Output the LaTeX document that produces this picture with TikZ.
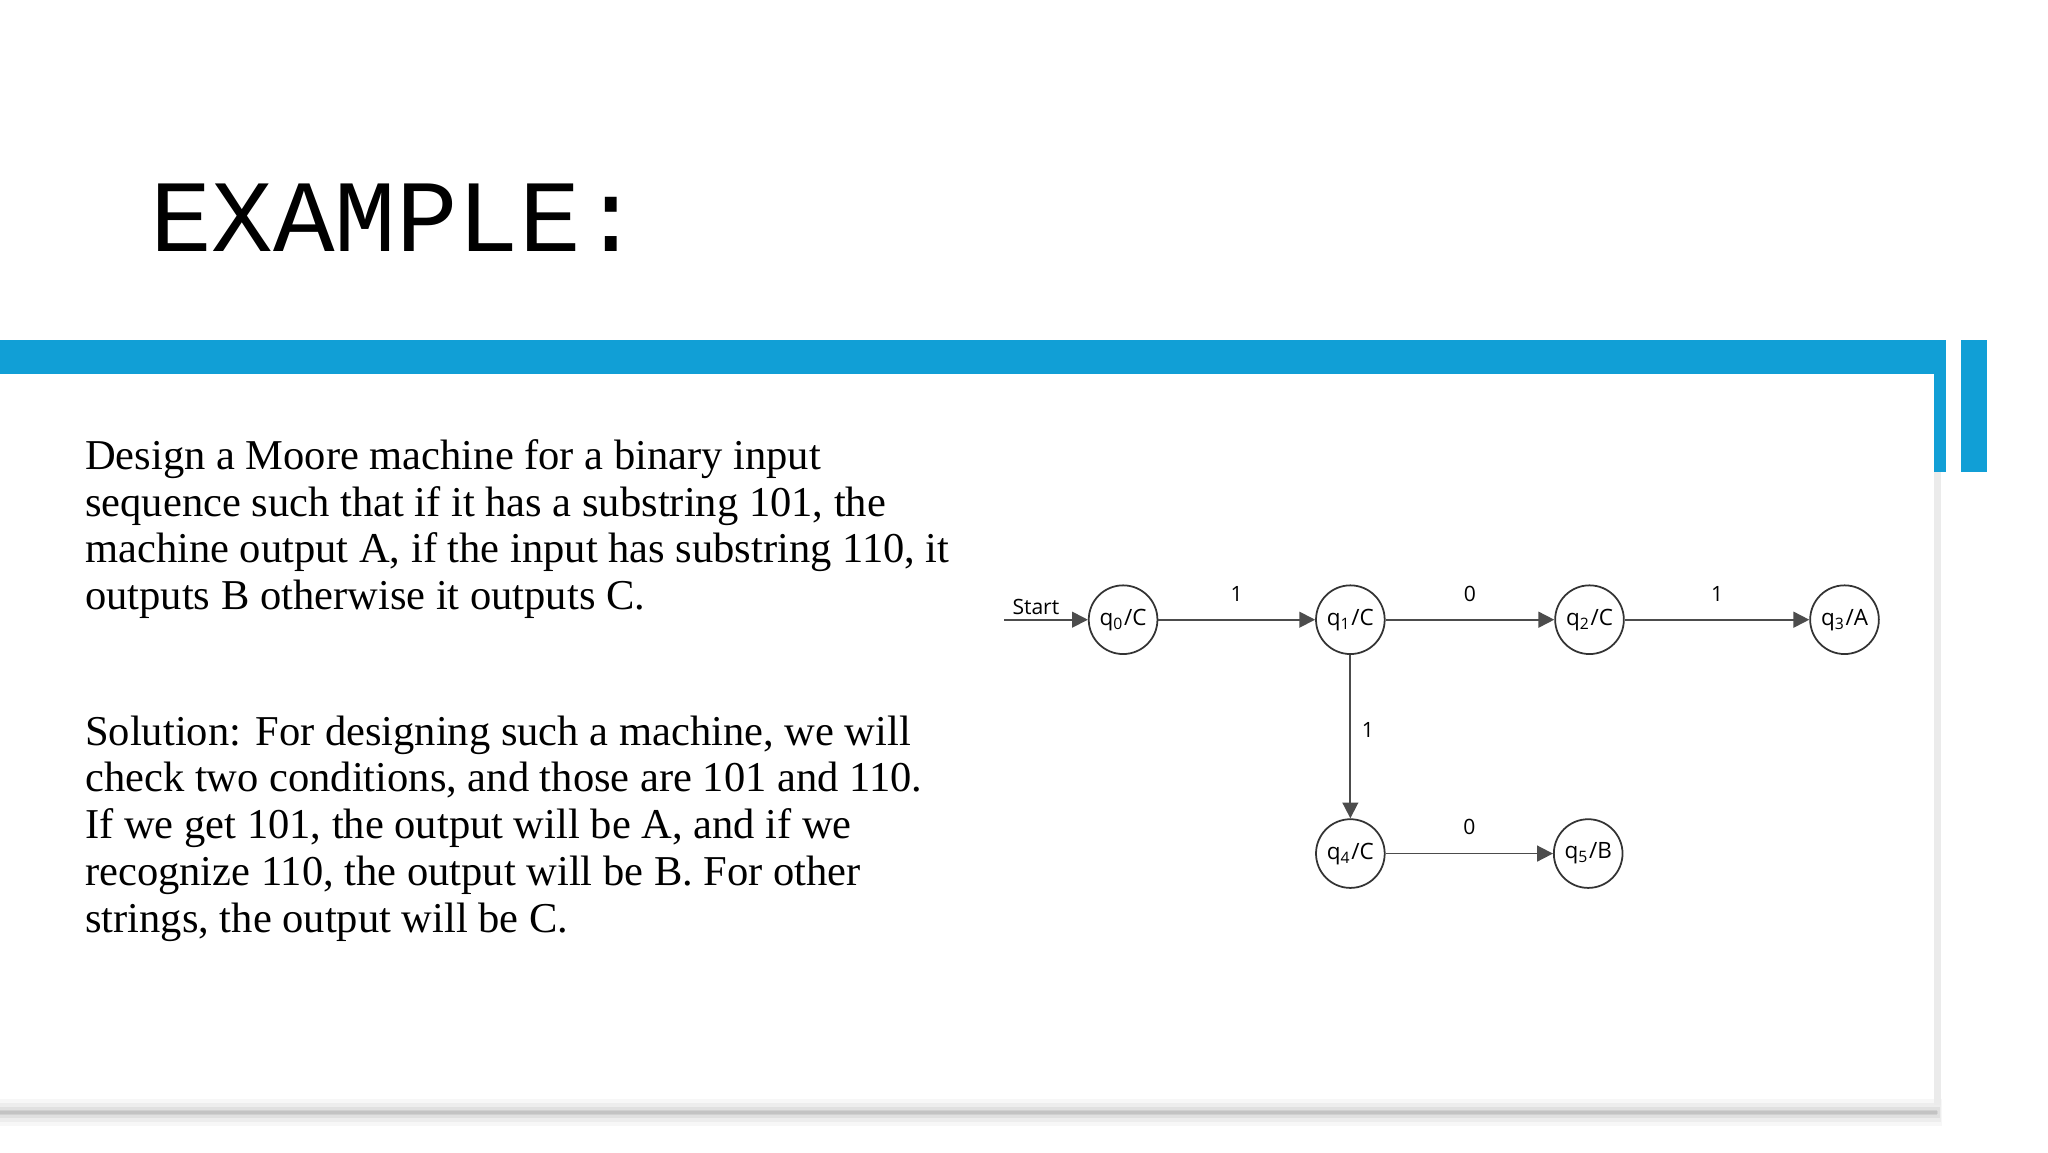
\documentclass[tikz,border=0pt]{standalone}
\usepackage{fontspec}
\setmainfont{Liberation Serif}
\setsansfont{Open Sans}
\newfontfamily\monof{Liberation Mono}
\usetikzlibrary{arrows.meta}
\definecolor{barblue}{HTML}{119FD6}
\begin{document}
\begin{tikzpicture}[x=0.013213cm,y=-0.013213cm,
  st/.style={circle,draw=black!80,line width=0.5pt,minimum size=0.687cm,inner sep=0pt,font=\sffamily\fontsize{6.4}{7}\selectfont},
  tr/.style={draw=black!70,line width=0.5pt,-{Triangle[length=4.5pt,width=4.5pt]}},
  lb/.style={font=\sffamily\fontsize{6}{7}\selectfont,inner sep=0pt},
  body/.style={anchor=north west,align=left,inner sep=0pt,font=\fontsize{12.1}{13.3}\selectfont}]
\useasboundingbox (0,0) rectangle (1550,872);
\fill[white] (0,0) rectangle (1550,872);
% shadow
\foreach \i/\o in {0/0.03,1/0.04,2/0.05,3/0.06,4/0.07}{
  \fill[black,opacity=\o] (0,832+3*\i) rectangle (1470-\i,852-3*\i);}
\fill[black!8] (1464,300) rectangle (1469,836);
\fill[white] (0,283) rectangle (1464,832);
% bars
\fill[barblue] (0,257) rectangle (1473,283);
\fill[barblue] (1464,257) rectangle (1473,357);
\fill[barblue] (1484,257) rectangle (1504,357);
% title
\node[anchor=base west,inner sep=0pt,font=\monof\fontsize{29.2}{32}\selectfont] (title) at (113,190) {EXAMPLE:};
% body
\node[body] (p1) at (64,332) {Design a Moore machine for a binary input\\sequence such that if it has a substring 101, the\\machine output A, if the input has substring 110, it\\outputs B otherwise it outputs C.};
\node[body] (p2) at (64,541) {Solution: For designing such a machine, we will\\check two conditions, and those are 101 and 110.\\If we get 101, the output will be A, and if we\\recognize 110, the output will be B. For other\\strings, the output will be C.};
% diagram
\node[st] (q0) at (850,469) {q\textsubscript{0}/C};
\node[st] (q1) at (1022,469) {q\textsubscript{1}/C};
\node[st] (q2) at (1203,469) {q\textsubscript{2}/C};
\node[st] (q3) at (1396,469) {q\textsubscript{3}/A};
\node[st] (q4) at (1022,646) {q\textsubscript{4}/C};
\node[st] (q5) at (1202,646) {q\textsubscript{5}/B};
\coordinate (s) at (760,469);
\node[lb] (start) at (784,459) {Start};
\draw[tr] (s) -- (q0);
\draw[tr] (q0) -- node[lb,above=5pt] {1} (q1);
\draw[tr] (q1) -- node[lb,above=5pt] {0} (q2);
\draw[tr] (q2) -- node[lb,above=5pt] {1} (q3);
\draw[tr] (q1) -- node[lb,right=3pt,pos=0.46] {1} (q4);
\draw[tr] (q4) -- node[lb,above=5pt] {0} (q5);
\end{tikzpicture}
\end{document}
